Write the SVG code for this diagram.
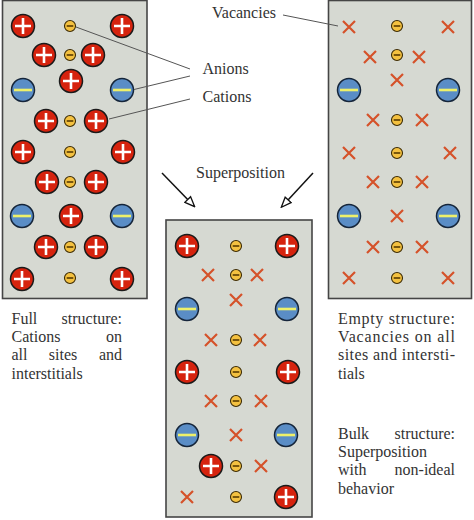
<svg xmlns="http://www.w3.org/2000/svg" width="474" height="520" viewBox="0 0 474 520">
<style>
.panel{fill:#d6d9d2;stroke:#454545;stroke-width:1.6}
.t{font-size:16px;fill:#333}
.lead{stroke:#555;stroke-width:1;fill:none}
.arr{stroke:#111;stroke-width:1.5;fill:none}
</style>
<defs>
<g id="cat"><circle r="11.5" fill="#d6230e" stroke="#1a1a1a" stroke-width="1.5"/><path d="M-8,0H8M0,-8V8" stroke="#fff" stroke-width="2.6"/></g>
<g id="an"><circle r="11.5" fill="#5a8dc6" stroke="#15253a" stroke-width="1.5"/><path d="M-9,0H9" stroke="#eef06a" stroke-width="2.6"/></g>
<g id="sa"><circle r="5.5" fill="#f4c140" stroke="#3a2a05" stroke-width="1.1"/><path d="M-3.3,0H3.3" stroke="#5a3c00" stroke-width="1.6"/></g>
<g id="vx"><path d="M-6,-6L6,6M-6,6L6,-6" stroke="#d5522a" stroke-width="2.2"/></g>
<marker id="oh" markerWidth="12" markerHeight="10" refX="10" refY="5" orient="auto" markerUnits="userSpaceOnUse"><path d="M1,1L11,5L1,9Z" fill="#fff" stroke="#111" stroke-width="1.3"/></marker>
</defs>

<g id="full">
<rect class="panel" x="2.5" y="0.5" width="144.5" height="298"/>
<use href="#cat" x="23" y="26"/><use href="#sa" x="70" y="26"/><use href="#cat" x="122" y="26"/>
<use href="#cat" x="44" y="55"/><use href="#sa" x="70" y="55"/><use href="#cat" x="93" y="55"/>
<use href="#cat" x="71" y="81"/><use href="#an" x="23" y="90"/><use href="#an" x="122" y="90"/>
<use href="#cat" x="46" y="121"/><use href="#sa" x="70" y="121"/><use href="#cat" x="96" y="121"/>
<use href="#cat" x="23" y="152"/><use href="#sa" x="70" y="152"/><use href="#cat" x="123" y="152"/>
<use href="#cat" x="47" y="182"/><use href="#sa" x="70" y="182"/><use href="#cat" x="96" y="182"/>
<use href="#an" x="22" y="216"/><use href="#cat" x="71" y="216"/><use href="#an" x="122" y="216"/>
<use href="#cat" x="46" y="247"/><use href="#sa" x="70" y="247"/><use href="#cat" x="96" y="247"/>
<use href="#cat" x="22" y="279"/><use href="#sa" x="70" y="278"/><use href="#cat" x="122" y="279"/>
</g>

<g id="empty">
<rect class="panel" x="328.5" y="0.5" width="143" height="298"/>
<use href="#vx" x="349" y="27"/><use href="#sa" x="397" y="26"/><use href="#vx" x="448" y="27"/>
<use href="#vx" x="370" y="57"/><use href="#sa" x="397" y="55"/><use href="#vx" x="419" y="57"/>
<use href="#vx" x="397" y="80"/><use href="#an" x="349" y="90"/><use href="#an" x="448" y="90"/>
<use href="#vx" x="373" y="120"/><use href="#sa" x="397" y="120"/><use href="#vx" x="422" y="120"/>
<use href="#vx" x="349" y="153"/><use href="#sa" x="397" y="153"/><use href="#vx" x="450" y="153"/>
<use href="#vx" x="373" y="182"/><use href="#sa" x="397" y="182"/><use href="#vx" x="422" y="182"/>
<use href="#an" x="349" y="216"/><use href="#vx" x="397" y="216"/><use href="#an" x="448" y="216"/>
<use href="#vx" x="373" y="247"/><use href="#sa" x="397" y="247"/><use href="#vx" x="422" y="247"/>
<use href="#vx" x="349" y="278"/><use href="#sa" x="397" y="278"/><use href="#vx" x="448" y="278"/>
</g>

<g id="bulk">
<rect class="panel" x="166" y="220" width="146" height="297"/>
<use href="#cat" x="187" y="246"/><use href="#sa" x="236" y="246"/><use href="#cat" x="287" y="246"/>
<use href="#vx" x="208" y="275"/><use href="#sa" x="236" y="275"/><use href="#vx" x="257" y="275"/>
<use href="#vx" x="236" y="300"/><use href="#an" x="187" y="309"/><use href="#an" x="287" y="309"/>
<use href="#vx" x="211" y="340"/><use href="#sa" x="236" y="340"/><use href="#vx" x="260" y="340"/>
<use href="#cat" x="187" y="372"/><use href="#sa" x="236" y="372"/><use href="#cat" x="288" y="372"/>
<use href="#vx" x="211" y="401"/><use href="#sa" x="236" y="401"/><use href="#vx" x="261" y="401"/>
<use href="#an" x="187" y="435"/><use href="#vx" x="236" y="435"/><use href="#an" x="286" y="435"/>
<use href="#cat" x="211" y="466"/><use href="#sa" x="236" y="466"/><use href="#vx" x="261" y="466"/>
<use href="#vx" x="187" y="497"/><use href="#sa" x="236" y="497"/><use href="#cat" x="286" y="497"/>
</g>

<g id="connectors">
<path class="lead" d="M283,15L338,26"/>
<path class="lead" d="M76,27L190,69"/>
<path class="lead" d="M134,89.5L190,76"/>
<path class="lead" d="M109,119L190,99"/>
<path class="arr" d="M162,173L194,206" marker-end="url(#oh)"/>
<path class="arr" d="M313,173L282,206.5" marker-end="url(#oh)"/>
</g>

<g font-family="'Liberation Serif', 'Times New Roman', serif">
<g id="labels">
<text class="t" x="212" y="18">Vacancies</text>
<text class="t" x="202.5" y="73.5">Anions</text>
<text class="t" x="202.5" y="101.5">Cations</text>
<text class="t" x="196" y="178">Superposition</text>
</g>

<g id="captions">
<text class="t" x="11.5" y="323.5">Full</text><text class="t" x="122" y="323.5" text-anchor="end">structure:</text>
<text class="t" x="11.5" y="341.5">Cations</text><text class="t" x="122" y="341.5" text-anchor="end">on</text>
<text class="t" x="11.5" y="360">all</text><text class="t" x="63" y="360" text-anchor="middle">sites</text><text class="t" x="122" y="360" text-anchor="end">and</text>
<text class="t" x="11.5" y="378.5">interstitials</text>

<text class="t" x="338" y="323.5" textLength="117" lengthAdjust="spacing">Empty structure:</text>
<text class="t" x="338" y="341.5" textLength="117" lengthAdjust="spacing">Vacancies on all</text>
<text class="t" x="338" y="360" textLength="117" lengthAdjust="spacing">sites and intersti-</text>
<text class="t" x="338" y="378.5">tials</text>

<text class="t" x="338" y="438.5">Bulk</text><text class="t" x="455" y="438.5" text-anchor="end">structure:</text>
<text class="t" x="338" y="456.5">Superposition</text>
<text class="t" x="338" y="475">with</text><text class="t" x="455" y="475" text-anchor="end">non-ideal</text>
<text class="t" x="338" y="493.5">behavior</text>
</g>
</g>
</svg>
